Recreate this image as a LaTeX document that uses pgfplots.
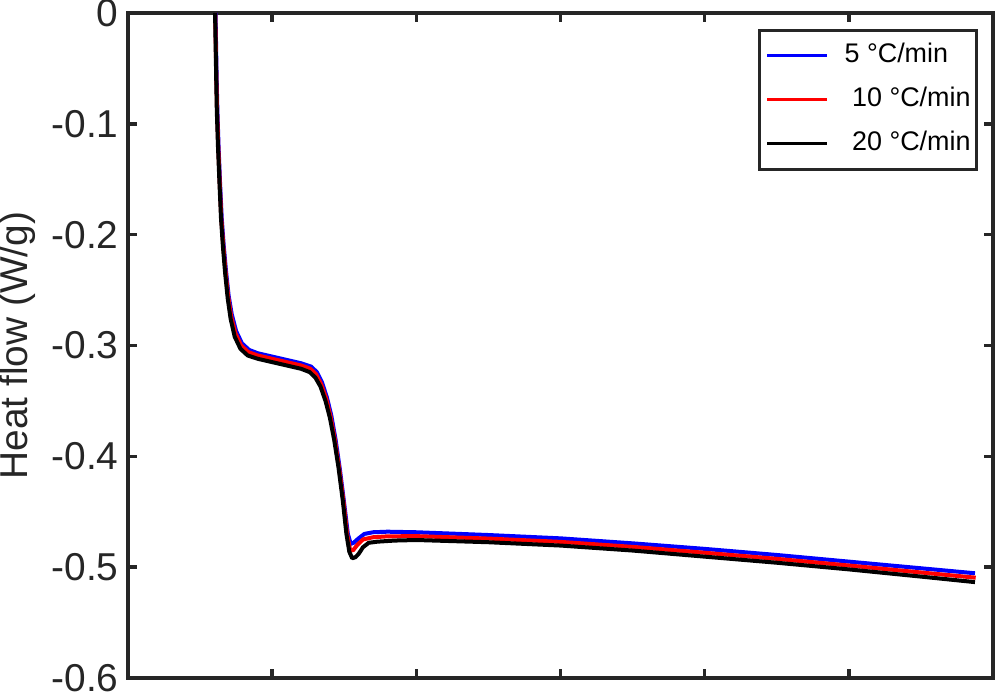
\documentclass[border=0pt]{standalone}
\usepackage{pgfplots}
\pgfplotsset{compat=1.18}
\usepackage{fontspec}
\setmainfont{Liberation Sans}
\definecolor{axgray}{RGB}{38,38,38}

\begin{document}
\begin{tikzpicture}
\begin{axis}[
    name=ax,
    scale only axis,
    width=865bp,
    height=665bp,
    xmin=0, xmax=6,
    ymin=-0.6, ymax=0,
    xtick={0,1,2,3,4,5,6},
    xticklabels={},
    ytick={-0.6,-0.5,-0.4,-0.3,-0.2,-0.1,0},
    yticklabels={-0.6,-0.5,-0.4,-0.3,-0.2,-0.1,0},
    tick align=inside,
    major tick length=9bp,
    axis line style={axgray, line width=3.5bp},
    every tick/.style={axgray, line width=3.5bp},
    tick label style={font=\fontsize{39}{45}\selectfont, text=axgray},
    yticklabel style={xshift=-6bp},
    ylabel={Heat flow (W/g)},
    ylabel style={font=\fontsize{39}{45}\selectfont, text=axgray,
        at={(rel axis cs:0,0.5)}, anchor=center, yshift=111bp},
    legend cell align=left,
    legend image code/.code={\draw[#1, line width=3bp] (0bp,0bp) -- (60bp,0bp);},
    legend style={
        at={(rel axis cs:0.9827,0.976)},
        anchor=north east,
        draw=axgray,
        line width=3bp,
        font=\fontsize{27}{31}\selectfont,
        inner xsep=6bp,
        inner ysep=13bp,
        row sep=19bp,
        nodes={inner sep=0pt, text height=19bp, text depth=6bp},
        /tikz/every odd column/.append style={column sep=16bp},
    },
    every axis plot/.append style={line width=4bp, line join=round},
]
% 5 C/min
\addplot[blue] coordinates {
(0.607,0.000) (0.611,-0.030) (0.615,-0.060) (0.620,-0.088) (0.628,-0.120)
(0.638,-0.152) (0.650,-0.185) (0.664,-0.210) (0.680,-0.233) (0.698,-0.255)
(0.720,-0.272) (0.750,-0.287) (0.790,-0.298) (0.840,-0.304) (0.900,-0.307)
(1.000,-0.310) (1.100,-0.313) (1.200,-0.316) (1.270,-0.319) (1.310,-0.324)
(1.345,-0.333) (1.380,-0.347) (1.410,-0.363) (1.440,-0.385) (1.470,-0.412)
(1.500,-0.443) (1.525,-0.470) (1.545,-0.479) (1.565,-0.478) (1.600,-0.474)
(1.640,-0.470) (1.700,-0.4685) (1.800,-0.4680) (2.000,-0.4685) (2.500,-0.4710)
(3.000,-0.4740) (3.500,-0.4785) (4.000,-0.4835) (4.500,-0.4890) (5.000,-0.4950)
(5.500,-0.5010) (5.875,-0.5055)
};
% 10 C/min
\addplot[red] coordinates {
(0.605,0.000) (0.609,-0.030) (0.613,-0.060) (0.618,-0.088) (0.626,-0.120)
(0.636,-0.152) (0.647,-0.185) (0.661,-0.210) (0.677,-0.234) (0.695,-0.256)
(0.716,-0.274) (0.745,-0.289) (0.785,-0.300) (0.835,-0.306) (0.900,-0.309)
(1.000,-0.312) (1.100,-0.315) (1.200,-0.318) (1.265,-0.321) (1.305,-0.326)
(1.340,-0.335) (1.375,-0.348) (1.405,-0.364) (1.435,-0.385) (1.465,-0.411)
(1.495,-0.441) (1.520,-0.470) (1.540,-0.484) (1.560,-0.485) (1.590,-0.480)
(1.630,-0.475) (1.700,-0.4730) (1.800,-0.4722) (2.000,-0.4720) (2.500,-0.4742)
(3.000,-0.4772) (3.500,-0.4817) (4.000,-0.4870) (4.500,-0.4925) (5.000,-0.4985)
(5.500,-0.5048) (5.880,-0.5095)
};
% 20 C/min
\addplot[black] coordinates {
(0.604,0.000) (0.608,-0.030) (0.612,-0.060) (0.616,-0.088) (0.624,-0.120)
(0.634,-0.152) (0.645,-0.185) (0.658,-0.210) (0.674,-0.235) (0.692,-0.258)
(0.712,-0.276) (0.740,-0.292) (0.780,-0.303) (0.830,-0.309) (0.900,-0.312)
(1.000,-0.315) (1.100,-0.318) (1.200,-0.321) (1.260,-0.324) (1.300,-0.329)
(1.335,-0.337) (1.370,-0.350) (1.400,-0.365) (1.430,-0.385) (1.460,-0.410)
(1.490,-0.440) (1.515,-0.470) (1.535,-0.486) (1.555,-0.492) (1.578,-0.491)
(1.600,-0.488) (1.630,-0.482) (1.670,-0.478) (1.730,-0.477) (1.850,-0.4760)
(2.000,-0.4755) (2.500,-0.4775) (3.000,-0.4805) (3.500,-0.4850) (4.000,-0.4905)
(4.500,-0.4960) (5.000,-0.5020) (5.500,-0.5085) (5.875,-0.5135)
};
\legend{5 °C/min,\ 10 °C/min,\ 20 °C/min}
\coordinate (ll) at (rel axis cs:0,0);
\coordinate (ur) at (rel axis cs:1,1);
\end{axis}
\pgfresetboundingbox
\path ([xshift=-128bp,yshift=-14bp]ll) rectangle ([xshift=3bp,yshift=13bp]ur);
\end{tikzpicture}
\end{document}
